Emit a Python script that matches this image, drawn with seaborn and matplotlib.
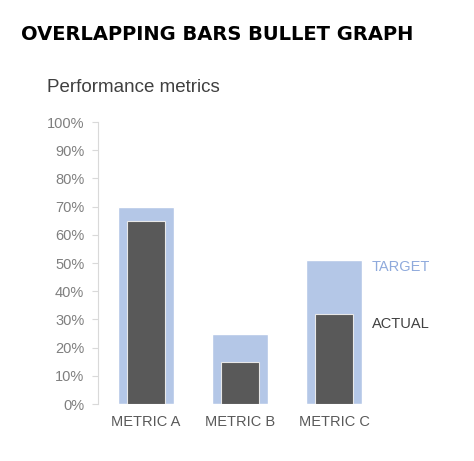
import matplotlib
matplotlib.use("Agg")
import matplotlib.pyplot as plt
import seaborn as sns
import pandas as pd

categories = ["METRIC A", "METRIC B", "METRIC C"]
target = [70, 25, 51]
actual = [65, 15, 32]
yticks = list(range(0, 101, 10))

sns.set_style("white")
plt.rcParams['font.family'] = ['Liberation Sans', 'DejaVu Sans']

df = pd.DataFrame({"cat": categories, "target": target, "actual": actual})
fig = plt.figure(figsize=(4.74, 4.61), dpi=100)
ax = fig.add_axes([0.207, 0.1236, 0.597, 0.6115])
sns.barplot(data=df, x="cat", y="target", color="#b4c7e7", width=0.6, ax=ax, saturation=1)
sns.barplot(data=df, x="cat", y="actual", color="#595959", width=0.4, ax=ax, saturation=1,
            edgecolor="#e8e8e8", linewidth=0.8)
ax.set_xlim(-0.51, 2.5)
ax.set_ylim(0, 100)
ax.set_yticks(yticks)
ax.set_yticklabels([f"{v}%" for v in yticks], color="#7f7f7f", fontsize=10.5)
ax.set_xticks(range(3))
ax.set_xticklabels(categories, color="#595959", fontsize=10.5)
ax.set_xlabel(""); ax.set_ylabel("")
for s in ["top", "right", "bottom"]:
    ax.spines[s].set_visible(False)
ax.spines["left"].set_color("#d9d9d9")
ax.tick_params(axis="y", length=4, color="#d9d9d9", pad=6, left=True)
ax.tick_params(axis="x", length=0, pad=8)

ax.text(2.4, 48.5, "TARGET", color="#8faadc", fontsize=10.5, va="center", ha="left", clip_on=False)
ax.text(2.4, 28.5, "ACTUAL", color="#404040", fontsize=10.5, va="center", ha="left", clip_on=False)

fig.text(0.1, 0.81, "Performance metrics", fontsize=13.5, color="#404040", va="center")
fig.text(0.045, 0.925, "OVERLAPPING BARS BULLET GRAPH", fontsize=14, fontweight="bold",
         color="black", va="center", family=["DejaVu Sans"])
fig.savefig("out.png", dpi=100)
